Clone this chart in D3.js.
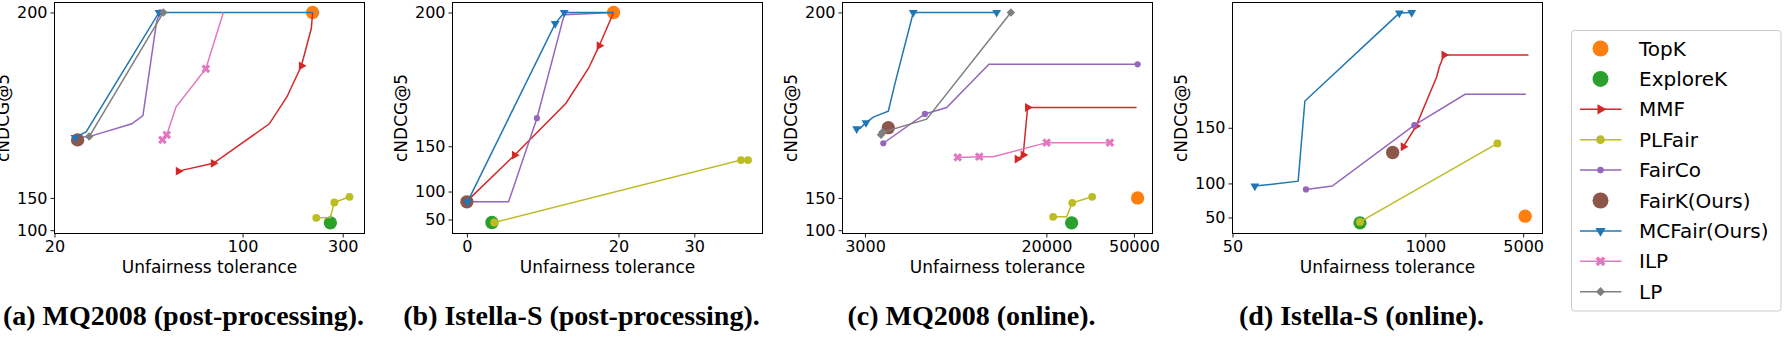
<!DOCTYPE html>
<html>
<head>
<meta charset="utf-8">
<title>cNDCG@5 vs unfairness tolerance</title>
<style>
  body { margin: 0; background: #fff; }
  svg { display: block; }
</style>
</head>
<body>
<svg width="1786" height="358"></svg>
<script src="https://cdn.jsdelivr.net/npm/d3@7"></script>
<script>
// methods in legend order
const methods = ["TopK", "ExploreK", "MMF", "PLFair", "FairCo", "FairK(Ours)", "MCFair(Ours)", "ILP", "LP"];
const colors  = ["#ff7f0e", "#2ca02c", "#d62728", "#bcbd22", "#9467bd", "#8c564b", "#1f77b4", "#e377c2", "#7f7f7f"];
const kinds   = ["big", "big", "right", "dot", "small", "big", "down", "x", "diamond"];

// points are [unfairness, cNDCG@5, has marker]
const mqPost = {
  "TopK": [[214, 200]],
  "ExploreK": [[261, 114.5]],
  "MMF": [[214, 200, 0], [211, 199.6, 0], [189, 197.9, 1], [161, 195, 0], [133, 190.4, 0], [74, 176.5, 1], [52.5, 172.1, 1]],
  "PLFair": [[223, 123.2, 1], [261, 123.8, 0], [273, 144.9, 1], [324, 151.2, 1]],
  "FairCo": [[23.1, 186.8, 1], [25, 187.1, 0], [34.7, 190.4, 0], [38.1, 192.1, 0], [43, 199.8, 0], [44.4, 200, 1]],
  "FairK(Ours)": [[23.1, 186.1]],
  "MCFair(Ours)": [[22.7, 186.8, 1], [24.5, 188.5, 0], [43.9, 200, 1], [214, 200, 0]],
  "ILP": [[45.3, 186.1, 1], [47.1, 187.6, 1], [51.4, 193.6, 0], [68.6, 197.7, 1], [81.9, 200, 0]],
  "LP": [[25, 187.1, 1], [45.7, 200, 1]]
};

const isPost = {
  "TopK": [[19.35, 200]],
  "ExploreK": [[3.3, 43.5]],
  "MMF": [[19.35, 200, 0], [17.46, 194.4, 1], [16.05, 188.9, 0], [13.07, 176.3, 0], [6.28, 142.4, 1], [0.08, 85.7, 1]],
  "PLFair": [[3.6, 43.5, 1], [36.16, 137.8, 1], [37.09, 137.8, 1]],
  "FairCo": [[0, 83.7, 1], [5.5, 83.7, 0], [9.24, 168.8, 1], [12.84, 199.7, 0], [19.35, 200, 0]],
  "FairK(Ours)": [[0, 83.7]],
  "MCFair(Ours)": [[0.08, 83.7, 1], [11.65, 198.4, 1], [12.84, 200, 1], [19.35, 200, 0]],
  "ILP": [],
  "LP": []
};

const mqOnline = {
  "TopK": [[51940, 150]],
  "ExploreK": [[26050, 114.5]],
  "MMF": [[14750, 178.6, 1], [15700, 180.5, 1], [16440, 193.5, 1], [51400, 193.5, 0]],
  "PLFair": [[21470, 124.8, 1], [24720, 124.8, 0], [26220, 144.4, 1], [32280, 151.2, 1]],
  "FairCo": [[3633, 185, 1], [5613, 192.4, 1], [7047, 193.5, 0], [10970, 198, 0], [51940, 198, 1]],
  "FairK(Ours)": [[3828, 189.5]],
  "MCFair(Ours)": [[2750, 189.2, 1], [2848, 189.3, 0], [3031, 190.65, 1], [3272, 191.8, 0], [3828, 192.9, 0], [4106, 196.5, 0], [4970, 200, 1], [11890, 200, 1]],
  "ILP": [[7910, 179.4, 1], [9913, 179.7, 1], [11480, 179.75, 0], [20060, 185.2, 1], [38870, 185.2, 1]],
  "LP": [[3547, 187.6, 1], [3600, 188.3, 1], [5718, 191.4, 0], [13800, 200, 1]]
};

const isOnline = {
  "TopK": [[5169, 52.3]],
  "ExploreK": [[346, 40.2]],
  "MMF": [[698, 136.3, 1], [860, 151.1, 1], [1206, 175.2, 0], [1259, 178.7, 0], [1360, 182.3, 1], [5459, 182.3, 0]],
  "PLFair": [[346, 42, 1], [3273, 138.9, 1]],
  "FairCo": [[147, 92.5, 1], [222, 96.7, 0], [836, 151.7, 1], [1921, 168.1, 0], [5229, 168.1, 0]],
  "FairK(Ours)": [[587, 131.6]],
  "MCFair(Ours)": [[68.3, 96.7, 1], [130.3, 102.7, 0], [144.6, 165, 0], [654, 191.9, 1], [801, 192, 1]],
  "ILP": [],
  "LP": []
};

const captions = ["(a) MQ2008 (post-processing).", "(b) Istella-S (post-processing).", "(c) MQ2008 (online).", "(d) Istella-S (online)."];
const xTicks = [[20, 100, 300], [0, 20, 30], [3000, 20000, 50000], [50, 1000, 5000]];
const yTicks = [[100, 150, 200], [50, 100, 150, 200], [100, 150, 200], [50, 100, 150]];

// axis setup: x shift for log(x - s) (null = linear), y uses log(top - y)
const panels = [
  {data: mqPost,   left: 54.5,   xShift: 10,   xDom: [20, 384],    yTop: 201, yDom: [92.6, 200.19]},
  {data: isPost,   left: 452.5,  xShift: null, xDom: [-1.9, 39],   yTop: 210, yDom: [17, 201.25]},
  {data: mqOnline, left: 842.5,  xShift: 0,    xDom: [2371, 60700], yTop: 201, yDom: [92.6, 200.19]},
  {data: isOnline, left: 1232.5, xShift: 9,    xDom: [50, 6880],   yTop: 208, yDom: [19, 193.7]}
];

const W = 310, H = 231, TOP = 2.5;
const svg = d3.select("svg");
const font = "DejaVu Sans, sans-serif";

function wrap(base, f) {
  const s = v => base(f(v));
  s.range = () => base.range();
  s.copy = () => s;
  return s;
}

function shiftedLog(shift, dom, range) {
  return wrap(d3.scaleLog().domain(dom.map(d => d - shift)).range(range), v => v - shift);
}

function reflectedLog(top, dom, range) {
  return wrap(d3.scaleLog().domain(dom.map(d => top - d)).range(range), v => top - v);
}

function symbolPath(kind, big) {
  const s = d3.symbol();
  if (kind === "big") return s.type(d3.symbolCircle).size(big ? 200 : 140)();
  if (kind === "dot") return s.type(d3.symbolCircle).size(big ? 60 : 48)();
  if (kind === "small") return s.type(d3.symbolCircle).size(big ? 34 : 30)();
  if (kind === "right" || kind === "down") return s.type(d3.symbolTriangle).size(big ? 46 : 34)();
  if (kind === "x") return s.type(d3.symbolCross).size(big ? 60 : 48)();
  if (kind === "diamond") return s.type(d3.symbolSquare).size(big ? 42 : 36)();
}

function rotation(kind) {
  if (kind === "right") return 90;
  if (kind === "down") return 180;
  if (kind === "x" || kind === "diamond") return 45;
  return 0;
}

panels.forEach((p, pi) => {
  const g = svg.append("g").attr("transform", `translate(${p.left},${TOP})`);

  const x = p.xShift === null
    ? d3.scaleLinear().domain(p.xDom).range([0, W])
    : shiftedLog(p.xShift, p.xDom, [0, W]);
  const y = reflectedLog(p.yTop, p.yDom, [H, 0]);

  const plot = g.append("g");
  const line = d3.line().x(d => x(d[0])).y(d => y(d[1]));

  methods.forEach((m, i) => {
    const pts = p.data[m];
    if (!pts || !pts.length) return;
    const kind = kinds[i];
    if (kind === "big") {
      plot.selectAll(null).data(pts).join("path")
        .attr("d", symbolPath(kind, false))
        .attr("transform", d => `translate(${x(d[0])},${y(d[1])})`)
        .attr("fill", colors[i]);
      return;
    }
    plot.append("path")
      .datum(pts)
      .attr("d", line)
      .attr("fill", "none")
      .attr("stroke", colors[i])
      .attr("stroke-width", 1.5);
    plot.selectAll(null).data(pts.filter(d => d[2])).join("path")
      .attr("d", symbolPath(kind, false))
      .attr("transform", d => `translate(${x(d[0])},${y(d[1])}) rotate(${rotation(kind)})`)
      .attr("fill", colors[i]);
  });

  // axes
  const xa = g.append("g").attr("transform", `translate(0,${H})`)
    .call(d3.axisBottom(x).tickValues(xTicks[pi]).tickFormat(d => d).tickSize(4).tickPadding(3));
  const ya = g.append("g")
    .call(d3.axisLeft(y).tickValues(yTicks[pi]).tickFormat(d => d).tickSize(4).tickPadding(3));
  [xa, ya].forEach(a => {
    a.select(".domain").remove();
    a.selectAll("line").attr("stroke", "#000").attr("stroke-width", 0.9);
    a.selectAll("text").attr("font-family", font).attr("font-size", 16).attr("fill", "#000");
  });

  g.append("rect")
    .attr("width", W).attr("height", H)
    .attr("fill", "none").attr("stroke", "#000").attr("stroke-width", 1);

  g.append("text")
    .attr("x", W / 2).attr("y", H + 39)
    .attr("text-anchor", "middle")
    .attr("font-family", font).attr("font-size", 17)
    .text("Unfairness tolerance");

  g.append("text")
    .attr("transform", `translate(-51,${H / 2}) rotate(-90)`)
    .attr("text-anchor", "middle")
    .attr("dominant-baseline", "middle")
    .attr("font-family", font).attr("font-size", 17)
    .text("cNDCG@5");

  svg.append("text")
    .attr("x", p.left + W / 2 - 26).attr("y", 325)
    .attr("text-anchor", "middle")
    .attr("font-family", "Liberation Serif, serif")
    .attr("font-weight", "bold")
    .attr("font-size", 28)
    .text(captions[pi]);
});

// legend
const lg = svg.append("g").attr("transform", "translate(1571.5,30.5)");
lg.append("rect")
  .attr("width", 209.5).attr("height", 280.5)
  .attr("rx", 3)
  .attr("fill", "#fff").attr("stroke", "#ccc").attr("stroke-width", 1);

methods.forEach((m, i) => {
  const row = lg.append("g").attr("transform", `translate(0,${18 + i * 30.4})`);
  const kind = kinds[i];
  if (kind !== "big") {
    row.append("line")
      .attr("x1", 8.5).attr("x2", 50)
      .attr("stroke", colors[i]).attr("stroke-width", 1.5);
  }
  row.append("path")
    .attr("d", symbolPath(kind, true))
    .attr("transform", `translate(29,0) rotate(${rotation(kind)})`)
    .attr("fill", colors[i]);
  row.append("text")
    .attr("x", 67.5)
    .attr("dominant-baseline", "central")
    .attr("font-family", font).attr("font-size", 20)
    .text(m);
});
</script>
</body>
</html>
